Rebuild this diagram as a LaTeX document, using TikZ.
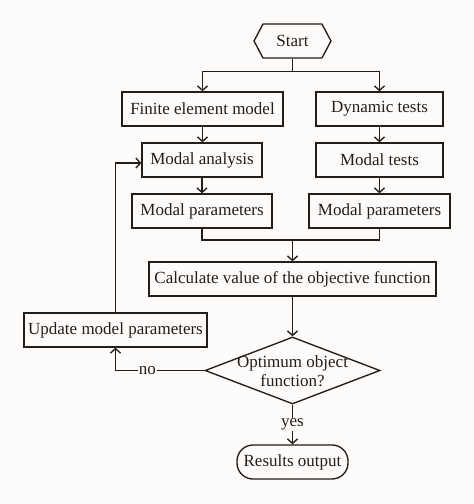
\documentclass[tikz,border=0pt]{standalone}
\usepackage{fontspec}
\setmainfont{Liberation Serif}
\usetikzlibrary{arrows.meta,shapes.geometric,shapes.symbols}
\definecolor{ink}{RGB}{35,30,27}
\definecolor{bg}{RGB}{253,252,250}
\begin{document}
\begin{tikzpicture}[x=1pt,y=-1pt,
  font=\fontsize{17}{19}\selectfont, text=ink,
  box/.style={draw=ink, line width=1.35pt, inner sep=0pt, minimum height=34pt},
  hexa/.style={box, shape=signal, signal to=east and west, signal pointer angle=124, minimum width=77pt},
  decision/.style={draw=ink, line width=1.35pt, shape=diamond, inner sep=0pt, minimum width=175pt, minimum height=67pt},
  term/.style={box, rounded corners=16pt},
  ln/.style={draw=ink, line width=1.35pt},
  arr/.style={ln, -{Straight Barb[length=4.5pt,width=10pt]}},
  lab/.style={fill=bg, inner sep=1pt},
]
\fill[bg] (0,0) rectangle (474,504);
\useasboundingbox (0,0) rectangle (474,504);

\node[hexa] (start) at (292.5,41) {Start};
\node[box, minimum width=161pt] (fem) at (202.5,109) {Finite element model};
\node[box, minimum width=127pt] (dyn) at (379.5,109) {Dynamic tests};
\node[box, minimum width=120pt] (ma) at (202,160) {Modal analysis};
\node[box, minimum width=127pt] (mt) at (379.5,160) {Modal tests};
\node[box, minimum width=140pt] (mpl) at (202,211) {Modal parameters};
\node[box, minimum width=141pt] (mpr) at (379.5,211) {Modal parameters};
\node[box, minimum width=287pt] (calc) at (292.5,279) {Calculate value of the objective function};
\node[box, minimum width=183pt] (upd) at (115.5,330) {Update model parameters};
\node[decision] (dec) at (292.5,370.5) {};
\node[align=center, inner sep=0pt] (dectext) at (292.5,371) {Optimum object\\function?};
\node[term, minimum width=111pt] (res) at (292.5,462) {Results output};

\draw[ln] (start.south) -- ++(0,13) coordinate (split);
\draw[arr] (split) -| (fem.north);
\draw[arr] (split) -| (dyn.north);
\draw[arr] (fem.south) -- (fem.south |- ma.north);
\draw[arr] (ma.south) -- (ma.south |- mpl.north);
\draw[arr] (dyn.south) -- (mt.north);
\draw[arr] (mt.south) -- (mpr.north);
\coordinate (merge) at (292.5,240);
\draw[ln] (mpl.south) |- (merge) -| (mpr.south);
\draw[arr] (merge) -- (calc.north);
\draw[arr] (calc.south) -- (dec.north);
\draw[arr] (dec.south) -- node[lab] {yes} (res.north);
\draw[arr] (dec.west) -| node[lab, pos=0.32] {no} (upd.south);
\draw[arr] (upd.north) |- ([yshift=-3pt]ma.west);
\end{tikzpicture}
\end{document}
